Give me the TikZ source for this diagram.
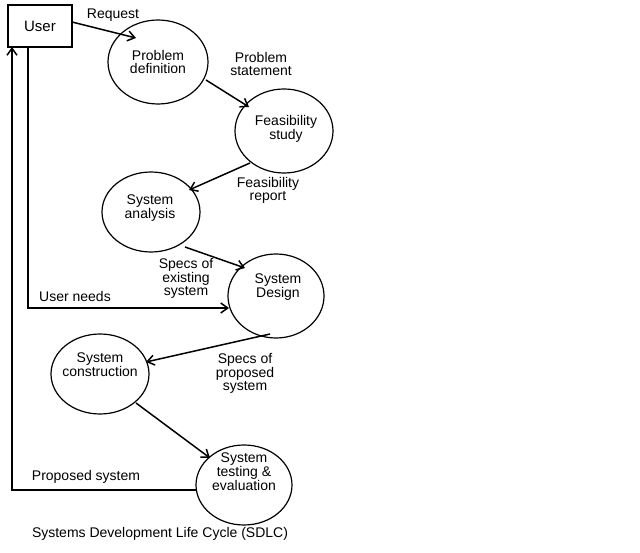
\documentclass[tikz,border=0pt]{standalone}
\usepackage{fontspec}
\setmainfont{Liberation Sans}
\usetikzlibrary{arrows.meta}
\begin{document}
\begin{tikzpicture}[x=1pt,y=-1pt,
  el/.style={draw,line width=1.2pt,ellipse,align=center,inner sep=0pt},
  lab/.style={align=center,font=\fontsize{14}{13}\selectfont,inner sep=0pt},
  arr/.style={line width=1.5pt,-{Straight Barb[length=7pt,width=10pt]}}]
\useasboundingbox (0,0) rectangle (640,553);
\node[draw,line width=1.2pt,minimum width=64pt,minimum height=42pt,font=\fontsize{15}{15}\selectfont] (user) at (40,26) {User};
\draw[line width=1.2pt] (158,62) ellipse (50 and 42); \node[lab] (pd) at (158,62) {Problem\\definition};
\draw[line width=1.2pt] (284,131) ellipse (49 and 42); \node[lab] (fs) at (286,129) {Feasibility\\study};
\draw[line width=1.2pt] (151,212) ellipse (49 and 40); \node[lab] (sa) at (150,208) {System\\analysis};
\draw[line width=1.2pt] (276,296) ellipse (48 and 42); \node[lab] (sd) at (278,287) {System\\Design};
\draw[line width=1.2pt] (100,374) ellipse (49 and 40); \node[lab] (sc) at (100,365) {System\\construction};
\draw[line width=1.2pt] (244,485) ellipse (48 and 40); \node[lab] (st) at (244,472) {System\\testing \&\\evaluation};
\coordinate (u1) at (72,22); \coordinate (p1) at (136,38);
\coordinate (p2) at (206,80); \coordinate (f1) at (249,107);
\coordinate (f2) at (250,163); \coordinate (a1) at (189,190);
\coordinate (a2) at (185,247); \coordinate (d1) at (245,268);
\coordinate (d2) at (270,334); \coordinate (c1) at (146,362);
\coordinate (c2) at (136,403); \coordinate (t1) at (210,458);
\coordinate (t2) at (196,490); \coordinate (ub) at (12,47);
\coordinate (ud) at (28,47); \coordinate (d3) at (229,308);
\draw[arr] (u1) -- (p1);
\draw[arr] (p2) -- (f1);
\draw[arr] (f2) -- (a1);
\draw[arr] (a2) -- (d1);
\draw[arr] (d2) -- (c1);
\draw[arr] (c2) -- (t1);
\draw[arr] (ud) -- (28,308) -- (d3);
\draw[arr] (t2) -- (12,490) -- (ub);
\node[lab] (l1) at (113,15) {Request};
\node[lab] (l2) at (261,64) {Problem\\statement};
\node[lab] (l3) at (268,190) {Feasibility\\report};
\node[lab] (l4) at (186,278) {Specs of\\existing\\system};
\node[lab] (l5) at (75,296) {User needs};
\node[lab] (l6) at (245,373) {Specs of\\proposed\\system};
\node[lab] (l7) at (86,477) {Proposed system};
\node[lab] (cap) at (160,534) {Systems Development Life Cycle (SDLC)};
\end{tikzpicture}
\end{document}
